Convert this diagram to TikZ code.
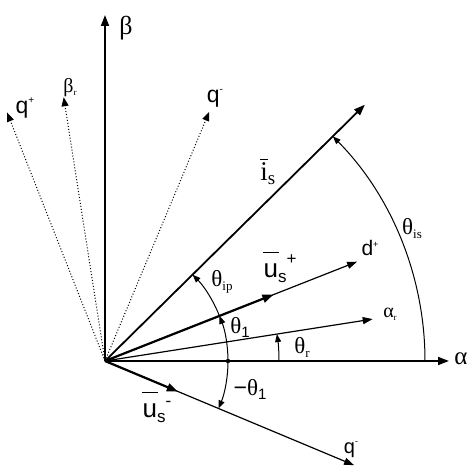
\documentclass[tikz,border=0pt]{standalone}
\usepackage{amsmath}
\usepackage{fontspec}
\setmainfont{Liberation Sans}
\newfontfamily\gr{Liberation Serif}
\usetikzlibrary{arrows.meta,calc}
\newcommand{\fs}[1]{\fontsize{#1}{#1}\selectfont}
\newcommand{\usym}[2]{\fs{26}\rlap{\hspace{-0.03em}\raisebox{0.92em}{\rule{0.62em}{0.06em}}}u\raisebox{-0.2em}{\fs{17}s}\raisebox{#2}{\fs{17}#1}}
\begin{document}
\begin{tikzpicture}[x=1pt,y=1pt,
  axis/.style={line width=1.8pt,-{Triangle[length=11pt,width=8pt]}},
  vec/.style={line width=2.2pt,-{Triangle[length=11pt,width=8pt]}},
  rot/.style={line width=1.2pt,-{Triangle[length=10pt,width=7pt]}},
  dots/.style={dotted,line width=1pt,-{Triangle[length=9pt,width=7pt]}},
  ang/.style={line width=1pt,-{Triangle[length=8pt,width=6pt]}},
  lbl/.style={inner sep=0pt}]
\useasboundingbox (0,0) rectangle (474,468);
\coordinate (O) at (105,107);
\coordinate (A) at (449,107);
\coordinate (B) at (105,453);
\coordinate (Is) at ($(O)+(44.6:365)$);
\coordinate (Dp) at ($(O)+(21.5:271)$);
\coordinate (Ar) at ($(O)+(8.9:271)$);
\coordinate (Qm) at ($(O)+(-22.7:270)$);
\coordinate (Qp) at ($(O)+(111.5:267)$);
\coordinate (Br) at ($(O)+(98.9:267)$);
\coordinate (Qmt) at ($(O)+(67.3:270)$);
\coordinate (Up) at ($(O)+(21.5:181)$);
\coordinate (Um) at ($(O)+(-22.7:79)$);
% dotted q-axes
\draw[dots] (O) -- (Qp);
\draw[dots] (O) -- (Br);
\draw[dots] (O) -- (Qmt);
% rotating axes
\draw[rot] (O) -- (Dp);
\draw[rot] (O) -- (Ar);
\draw[rot] (O) -- (Qm);
% main axes
\draw[axis] (O) -- (A);
\draw[axis] (O) -- (B);
% vectors
\draw[axis] (O) -- (Is);
\draw[vec] (O) -- (Up);
\draw[vec] (O) -- (Um);
% angle arcs
\draw[ang] ($(O)+(320,0)$) arc[start angle=0,end angle=44.6,radius=320];
\draw[ang] ($(O)+(174,0)$) arc[start angle=0,end angle=8.9,radius=174];
\draw[ang] ($(O)+(123,0)$) arc[start angle=0,end angle=21.5,radius=123];
\draw[ang] ($(O)+(21.5:123)$) arc[start angle=21.5,end angle=44.6,radius=123];
\draw[ang] ($(O)+(123,0)$) arc[start angle=0,end angle=-22.7,radius=123];
\fill ($(O)+(123,0)$) circle (2.2pt);
% labels
\node[lbl] (la) at (461,109) {\gr\fs{25}α};
\node[lbl] (lb) at (126,440) {\gr\fs{26}β};
\node[lbl] (lqp) at (25,360) {\fs{23}q\raisebox{10pt}{\fs{10}+}};
\node[lbl] (lbr) at (70,380) {\gr\fs{20}β\raisebox{-3pt}{\fs{9}r}};
\node[lbl] (lqmt) at (215,370) {\fs{23}q\raisebox{10pt}{\fs{10}-}};
\node[lbl] (lis) at (268,297) {\gr\fs{27}$\overline{\text{\gr i}}_{\text{\gr s}}$};
\node[lbl] (lthis) at (412,239) {\gr\fs{23}θ\raisebox{-4pt}{\fs{13}is}};
\node[lbl] (ldp) at (370,220) {\fs{21}d\raisebox{8pt}{\fs{9}+}};
\node[lbl] (lup) at (280,201) {\usym{+}{0.5em}};
\node[lbl] (lar) at (390,154) {\gr\fs{20}α\raisebox{-3pt}{\fs{9}r}};
\node[lbl] (lthr) at (302,121) {\gr\fs{23}θ\raisebox{-4pt}{\fs{13}r}};
\node[lbl] (lthip) at (222,186) {\gr\fs{23}θ\raisebox{-4pt}{\fs{13}ip}};
\node[lbl] (lth1) at (240,141) {\gr\fs{23}θ\raisebox{-4pt}{\fs{15}\rmfamily1}};
\node[lbl] (lmth1) at (250,79) {\fs{23}\rmfamily−\gr θ\raisebox{-4pt}{\fs{15}\rmfamily1}};
\node[lbl] (lum) at (157,61) {\usym{-}{0.42em}};
\node[lbl] (lqmb) at (351,18) {\fs{20}q\raisebox{9pt}{\fs{9}-}};
\end{tikzpicture}
\end{document}
